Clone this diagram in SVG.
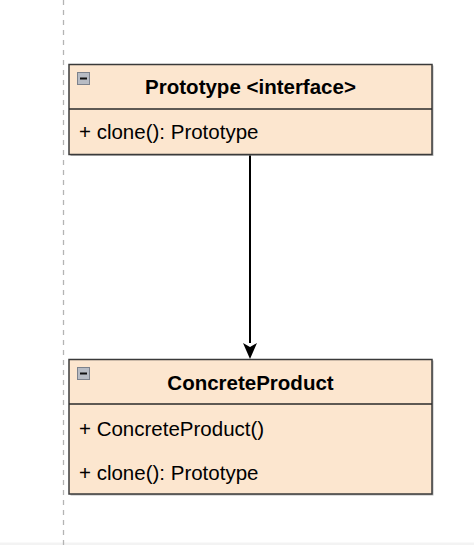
<svg xmlns="http://www.w3.org/2000/svg" width="474" height="545" viewBox="0 0 474 545">
<defs>
<style>
.box{fill:#fce6cf;stroke:#3a3a3a;stroke-width:1.5}
.shadow{fill:#8a8a8a;opacity:0.6}
.div{stroke:#2a2a2a;stroke-width:1.5}
.title{font-family:"Liberation Sans",Arial,sans-serif;font-weight:bold;font-size:20.5px;fill:#000;text-anchor:middle}
.item{font-family:"Liberation Sans",Arial,sans-serif;font-size:20.5px;fill:#000}
.icon{fill:#b8bcc4;stroke:#7d828c;stroke-width:1}
.iconbar{stroke:#111;stroke-width:2}
.edge{stroke:#000;stroke-width:2;fill:none}
</style>
<marker id="arrow" markerWidth="14" markerHeight="16" refX="7" refY="16" orient="auto-start-reverse" markerUnits="userSpaceOnUse" viewBox="0 0 14 16">
<path d="M0,0 L7,16 L14,0 L7,4 Z" fill="#000" transform="rotate(0)"/>
</marker>
</defs>
<rect x="0" y="0" width="474" height="545" fill="#ffffff"/>
<rect x="0" y="542.5" width="474" height="2.5" fill="#f3f3f3"/>
<line x1="63.5" y1="0" x2="63.5" y2="545" stroke="#b4b4b4" stroke-width="1.3" stroke-dasharray="5,5"/>

<g id="connectors">
<line class="edge" x1="250" y1="155" x2="250" y2="343"/>
<path d="M243,343 L250,359 L257,343 L250,347 Z" fill="#000"/>
</g>

<g id="node-prototype">
<rect class="shadow" x="70.5" y="65.5" width="363" height="90.5"/>
<rect class="box" x="69" y="64.5" width="363" height="90"/>
<line class="div" x1="69" y1="109" x2="432" y2="109"/>
<rect class="icon" x="77.5" y="72.5" width="12" height="12"/>
<line class="iconbar" x1="80" y1="78.5" x2="87" y2="78.5"/>
<text class="title" x="250.5" y="94">Prototype &lt;interface&gt;</text>
<text class="item" x="79" y="139">+ clone(): Prototype</text>
</g>

<g id="node-concreteproduct">
<rect class="shadow" x="70.5" y="360.5" width="363" height="135"/>
<rect class="box" x="69" y="359.5" width="363" height="134.5"/>
<line class="div" x1="69" y1="404" x2="432" y2="404"/>
<rect class="icon" x="77.5" y="367.5" width="12" height="12"/>
<line class="iconbar" x1="80" y1="373.5" x2="87" y2="373.5"/>
<text class="title" x="250.5" y="390">ConcreteProduct</text>
<text class="item" x="79" y="436">+ ConcreteProduct()</text>
<text class="item" x="79" y="480">+ clone(): Prototype</text>
</g>
</svg>
